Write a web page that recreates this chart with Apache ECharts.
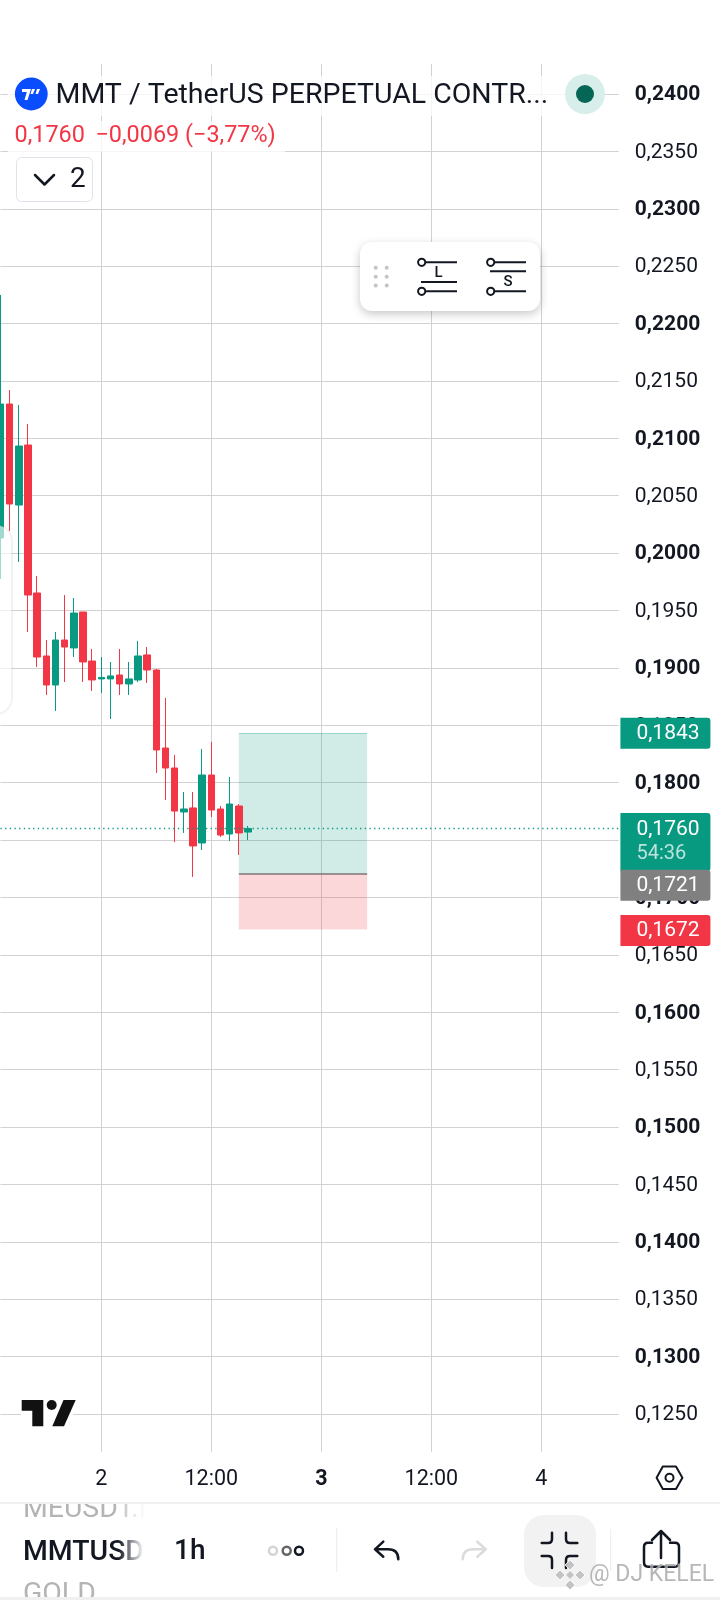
<!DOCTYPE html>
<html><head><meta charset="utf-8">
<style>html,body{margin:0;padding:0;background:#fff}#c{width:720px;height:1600px}</style>
<script src="https://cdn.jsdelivr.net/npm/echarts@6/dist/echarts.min.js"></script>
</head><body><div id="c"></div>
<script>
var opens  = [.20132,.21299,.20419,.20942,.19653,.19104,.18851,.19243,.19174,.19487,.1906,.18904,.18904,.18938,.1886,.18895,.19113,.18982,.18302,.18128,.17745,.1778,.17475,.18067,.17771,.17553,.17797,.1757];
var closes = [.21299,.20428,.20933,.19635,.19095,.18851,.19243,.19182,.19478,.19052,.18895,.18917,.1893,.1886,.18904,.19104,.18982,.18285,.18128,.17753,.17771,.17449,.18067,.17762,.17544,.17814,.17562,.176];
var lows   = [.19775,.20193,.19923,.19313,.19008,.18764,.18625,.18877,.19095,.18877,.18799,.18782,.18555,.18764,.18764,.18877,.18869,.18085,.17849,.17483,.17562,.17179,.17414,.17701,.17527,.17492,.1737,.17501];
var highs  = [.22249,.21421,.21291,.21125,.19801,.19243,.19313,.19635,.19609,.19487,.19165,.19095,.19052,.19165,.19052,.19235,.19182,.18991,.18738,.18241,.17919,.17919,.18294,.18355,.17797,.1805,.17814,.17623];
var xTickIndex = [11,23,35,47,59];
var xTickLabels = ['2','12:00','3','12:00','4'];
var yTicks = [.125,.13,.135,.14,.145,.15,.155,.16,.165,.17,.175,.18,.185,.19,.195,.2,.205,.21,.215,.22,.225,.23,.235,.24];
var boldYTicks = [.13,.14,.15,.16,.17,.18,.19,.2,.21,.22,.23,.24];
var lastPrice = 0.1760, targetPrice = 0.1843, entryPrice = 0.1721, stopPrice = 0.1672;
var boxStart = 26, boxEnd = 40, slotCount = 69;

var UP = '#089981', DOWN = '#F23645', INK = '#131722', GRID = '#d2d2d2';
var FONT = 'Roboto, sans-serif';
var cats = [];
for (var i = 0; i < slotCount; i++) cats.push('bar' + i);
var candles = opens.map(function (o, i) { return [o, closes[i], lows[i], highs[i]]; });
var comma = function (v) { return v.toFixed(4).replace('.', ','); };
var isXTick = function (i) { return xTickIndex.indexOf(i) >= 0; };

function text(x, y, s, size, fill, extra) {
  var st = { text: s, x: x, y: y, font: (extra && extra.weight || 400) + ' ' + size + 'px ' + FONT, fill: fill,
             align: extra && extra.align || 'left', verticalAlign: 'middle' };
  return { type: 'text', z: 60, silent: true, style: st };
}
function rect(x, y, w, h, fill, r, z, extra) {
  var o = { type: 'rect', z: z || 50, silent: true, shape: { x: x, y: y, width: w, height: h, r: r || 0 }, style: Object.assign({ fill: fill }, extra || {}) };
  return o;
}
function circle(cx, cy, r, style, z) { return { type: 'circle', z: z || 60, silent: true, shape: { cx: cx, cy: cy, r: r }, style: style }; }
function line(x1, y1, x2, y2, c, w) { return { type: 'line', z: 60, silent: true, shape: { x1: x1, y1: y1, x2: x2, y2: y2 }, style: { stroke: c, lineWidth: w || 2 } }; }
var pathCount = 0;
function path(d, c, w, fill) {
  var name = 'iconPath' + (pathCount++);
  echarts.graphic.registerShape(name, echarts.graphic.extendPath(d, {}));
  return { type: name, z: 60, silent: true, style: { stroke: c, lineWidth: w || 2, fill: fill || 'none', lineCap: 'round', lineJoin: 'round' } };
}
function poly(p, fill) { return { type: 'polygon', z: 60, silent: true, shape: { points: p }, style: { fill: fill } }; }
function ring(cx, cy, r, c, w) { return circle(cx, cy, r, { fill: '#fff', stroke: c, lineWidth: w || 2 }, 61); }
function fade(x, y, w, h) { return { type: 'rect', z: 62, silent: true, shape: { x: x, y: y, width: w, height: h },
  style: { fill: new echarts.graphic.LinearGradient(0, 0, 1, 0, [{ offset: 0, color: 'rgba(255,255,255,0)' }, { offset: 1, color: 'rgba(255,255,255,1)' }]) } }; }
function diamond(cx, cy, r, fill) { return { type: 'polygon', z: 64, silent: true, shape: { points: [[cx, cy - r], [cx + r, cy], [cx, cy + r], [cx - r, cy]] }, style: { fill: fill, stroke: 'rgba(255,255,255,.8)', lineWidth: 1 } }; }

var ui = [
  rect(618.7, 60, 8, 1395, '#fff', 0, 3),
  rect(8, 76, 574, 40, 'rgba(255,255,255,.78)', 0, 40),
  rect(8, 121, 277, 31, 'rgba(255,255,255,.78)', 0, 40),
  rect(-30, 525, 42, 189, 'rgba(255,255,255,.62)', 16, 40, { stroke: 'rgba(0,0,0,.05)', lineWidth: 2 }),
  circle(31.3, 94, 16.4, { fill: '#0A4DFF' }),
  poly([[22, 89], [31, 89], [27.5, 100], [24.5, 100], [26.8, 92], [22, 92]], '#fff'),
  poly([[32, 89], [35, 89], [33, 94], [30.5, 94]], '#fff'),
  poly([[37, 89], [40, 89], [38, 94], [35.5, 94]], '#fff'),
  text(55.5, 95.5, 'MMT / TetherUS PERPETUAL CONTR...', 28.5, INK),
  text(14.5, 136, '0,1760', 23.4, DOWN),
  text(95.5, 136, '\u22120,0069 (\u22123,77%)', 23.4, DOWN),
  rect(16.5, 157.5, 76, 44, '#fff', 5, 50, { stroke: '#e0e3eb', lineWidth: 1 }),
  path('M35 175 L44.5 184.5 L54 175', INK, 2.5),
  text(70, 179.5, '2', 28, INK),
  circle(585, 94, 20, { fill: '#d8eeea' }),
  circle(585, 94, 9, { fill: '#056656' }),
  rect(360, 242, 180, 69, '#fff', 12, 50, { shadowBlur: 10, shadowOffsetY: 3, shadowColor: 'rgba(0,0,0,.22)' }),
  circle(375.7, 267.7, 2, { fill: '#c4c4c4' }), circle(386.7, 267.7, 2, { fill: '#c4c4c4' }),
  circle(375.7, 276.7, 2, { fill: '#c4c4c4' }), circle(386.7, 276.7, 2, { fill: '#c4c4c4' }),
  circle(375.7, 285.5, 2, { fill: '#c4c4c4' }), circle(386.7, 285.5, 2, { fill: '#c4c4c4' }),
  line(424, 262.3, 457, 262.3, INK), ring(421.7, 262.3, 3.6, INK),
  line(421, 282, 457, 282, INK),
  line(424, 291.3, 457, 291.3, INK), ring(421.7, 291.3, 3.6, INK),
  text(438.5, 273, 'L', 15, INK, { align: 'center', weight: 500 }),
  line(493, 262.3, 526, 262.3, INK), ring(490.7, 262.3, 3.6, INK),
  line(490, 271.3, 526, 271.3, INK),
  line(493, 291.3, 526, 291.3, INK), ring(490.7, 291.3, 3.6, INK),
  text(508, 282, 'S', 15, INK, { align: 'center', weight: 500 }),
  rect(21, 1398, 52, 30, '#fff', 0, 45),
  poly([[21.7, 1400], [43.3, 1400], [43.3, 1426.3], [32.3, 1426.3], [32.3, 1410.7], [21.7, 1410.7]], '#111'),
  circle(51.7, 1405, 5, { fill: '#111' }),
  poly([[63.5, 1400], [75.7, 1400], [64, 1426.3], [52.3, 1426.3]], '#111'),
  path('M656.6 1477.7 L662.8 1466.5 L676 1466.5 L682.4 1477.7 L676 1489 L662.8 1489 Z', INK, 2),
  circle(669.5, 1477.7, 4, { fill: '#fff', stroke: INK, lineWidth: 2 }),
  text(23, 1510, 'MEUSDT.P', 28.4, '#b4b4b4'),
  text(23, 1595, 'GOLD', 28.4, '#b4b4b4'),
  fade(115, 1496, 30, 30),
  rect(144, 1496, 30, 30, '#fff', 0, 62),
  rect(0, 1490, 720, 13, '#fff', 0, 63),
  rect(0, 1502, 720, 2, '#f0f0f0', 0, 64),
  rect(0, 1597, 720, 3, '#f0f0f0', 0, 64),
  text(23, 1553, 'MMTUSD', 28.4, INK, { weight: 500 }),
  fade(118, 1535, 26, 34),
  rect(143.5, 1535, 20, 34, '#fff', 0, 62),
  text(174, 1552, '1h', 28, INK, { weight: 500 }),
  ring(273, 1550.7, 4, '#d4d4d4', 2.5), ring(286.7, 1550.7, 4, '#666', 2.5), ring(299, 1550.7, 4, INK, 2.5),
  line(336.7, 1528, 336.7, 1572, '#ececec', 1),
  path('M383.3 1541.7 L375 1549.3 L383.3 1556.7 M375 1549.3 H388 Q398.3 1549.3 398.3 1559.3', INK, 2.5),
  path('M477.3 1541.7 L485.7 1549.3 L477.3 1556.7 M485.7 1549.3 H473 Q462.7 1549.3 462.7 1559.3', '#dcdcdc', 2.5),
  rect(524, 1515, 72, 72, '#f2f2f2', 20, 50),
  path('M552 1532.7 V1539 Q552 1543 548 1543 H541.7 M566 1532.7 V1539 Q566 1543 570 1543 H577.3 M541.7 1556 H548 Q552 1556 552 1560 V1568 M577.3 1556 H570 Q566 1556 566 1560 V1568', INK, 2.5),
  line(610.7, 1529, 610.7, 1571, '#ececec', 1),
  path('M652 1542.7 H648 Q644 1542.7 644 1547 V1562 Q644 1566.7 648 1566.7 H675 Q679 1566.7 679 1562 V1547 Q679 1542.7 675 1542.7 H670 M661 1558 V1531 M652 1540 L661 1531 L670 1540', INK, 2.5),
  diamond(570, 1575, 4.5, 'rgba(190,190,190,.9)'), diamond(570, 1565, 5, 'rgba(190,190,190,.9)'), diamond(570, 1585, 5, 'rgba(190,190,190,.9)'),
  diamond(560, 1575, 5, 'rgba(190,190,190,.9)'), diamond(580, 1575, 5, 'rgba(190,190,190,.9)')
];
var wm = text(589, 1575, '@ DJ KELEL', 23, 'rgba(165,165,165,.8)');
wm.z = 65; wm.style.stroke = 'rgba(255,255,255,.5)'; wm.style.lineWidth = 1; ui.push(wm);

function tag(price, bg, offsetY, rich, fmt) {
  return { yAxis: price, lineStyle: { color: 'rgba(0,0,0,0)', width: 1 }, label: { show: true, position: 'end', distance: 0, offset: [-3.4, offsetY],
    formatter: fmt || comma(price), backgroundColor: bg, borderRadius: [0, 3, 3, 0], padding: [5, 0, 5, 16], width: 74,
    color: '#fff', fontFamily: FONT, fontSize: 21, lineHeight: 21, align: 'left', rich: rich || {} } };
}

var chart = echarts.init(document.getElementById('c'), null, { renderer: 'canvas' });
chart.setOption({
  animation: false,
  backgroundColor: '#fff',
  grid: { left: 0.46, top: 64, width: 623.36, height: 1388, containLabel: false },
  xAxis: {
    type: 'category', data: cats, boundaryGap: false,
    axisLine: { show: false }, axisTick: { show: false },
    axisLabel: {
      interval: function (i) { return isXTick(i); }, margin: 17,
      formatter: function (v, i) {
        var k = xTickIndex.indexOf(i);
        if (k < 0) return '';
        return xTickLabels[k] === '3' ? '{b|3}' : '{n|' + xTickLabels[k] + '}';
      },
      rich: { n: { fontFamily: FONT, fontSize: 21.5, color: INK }, b: { fontFamily: FONT, fontSize: 21.5, fontWeight: 700, color: INK } }
    },
    splitLine: { show: true, interval: function (i) { return isXTick(i); }, lineStyle: { color: GRID, width: 1 } }
  },
  yAxis: {
    type: 'value', position: 'right', min: 0.121689, max: 0.2426136, scale: true,
    axisLine: { show: false },
    axisTick: { show: false, customValues: yTicks },
    splitLine: { show: true, lineStyle: { color: GRID, width: 1 } },
    axisLabel: {
      customValues: yTicks, margin: 11, align: 'left',
      formatter: function (v) {
        var bold = boldYTicks.some(function (b) { return Math.abs(b - v) < 1e-6; });
        return (bold ? '{b|' : '{n|') + comma(v) + '}';
      },
      rich: { n: { fontFamily: FONT, fontSize: 21, color: INK, padding: [2, 0, 0, 0] }, b: { fontFamily: FONT, fontSize: 21, fontWeight: 700, color: INK, padding: [2, 0, 0, 0] } }
    }
  },
  series: [
    { name: 'position', type: 'line', data: [], z: 1, silent: true, symbol: 'none',
      markArea: { silent: true, data: [
        [{ xAxis: boxStart, yAxis: targetPrice, itemStyle: { color: 'rgba(8,153,129,.19)' } }, { xAxis: boxEnd, yAxis: entryPrice }],
        [{ xAxis: boxStart, yAxis: entryPrice, itemStyle: { color: 'rgba(242,54,69,.2)' } }, { xAxis: boxEnd, yAxis: stopPrice }]
      ] },
      markLine: { silent: true, symbol: 'none', precision: 4, label: { show: false }, data: [
        [{ xAxis: boxStart, yAxis: targetPrice, lineStyle: { color: 'rgba(8,153,129,.3)', width: 1, type: 'solid' } }, { xAxis: boxEnd, yAxis: targetPrice }],
        [{ xAxis: boxStart, yAxis: entryPrice, lineStyle: { color: '#787878', width: 1.5, type: 'solid' } }, { xAxis: boxEnd, yAxis: entryPrice }]
      ] }
    },
    { name: 'MMTUSDT', type: 'candlestick', z: 2, data: candles, barWidth: 7, silent: true,
      itemStyle: { color: UP, color0: DOWN, borderColor: UP, borderColor0: DOWN, borderWidth: 1 } },
    { name: 'lastLine', type: 'line', data: [], z: 2, silent: true, symbol: 'none',
      markLine: { silent: true, symbol: 'none', precision: 4, label: { show: false }, data: [
        { yAxis: lastPrice, lineStyle: { color: UP, width: 1.3, type: [1.3, 3.37] } }
      ] }
    },
    { name: 'prices', type: 'line', data: [], z: 5, silent: true, symbol: 'none',
      markLine: { silent: true, symbol: 'none', precision: 4, data: [
        tag(targetPrice, UP, 0),
        tag(lastPrice, UP, 13.4, { a: { color: '#fff', fontSize: 21, fontFamily: FONT, lineHeight: 24 }, t: { color: 'rgba(255,255,255,.72)', fontSize: 20, fontFamily: FONT, lineHeight: 24 } }, '{a|0,1760}\n{t|54:36}'),
        tag(entryPrice, '#808080', 12),
        tag(stopPrice, DOWN, 1)
      ] }
    }
  ],
  graphic: { elements: ui }
});
</script></body></html>
